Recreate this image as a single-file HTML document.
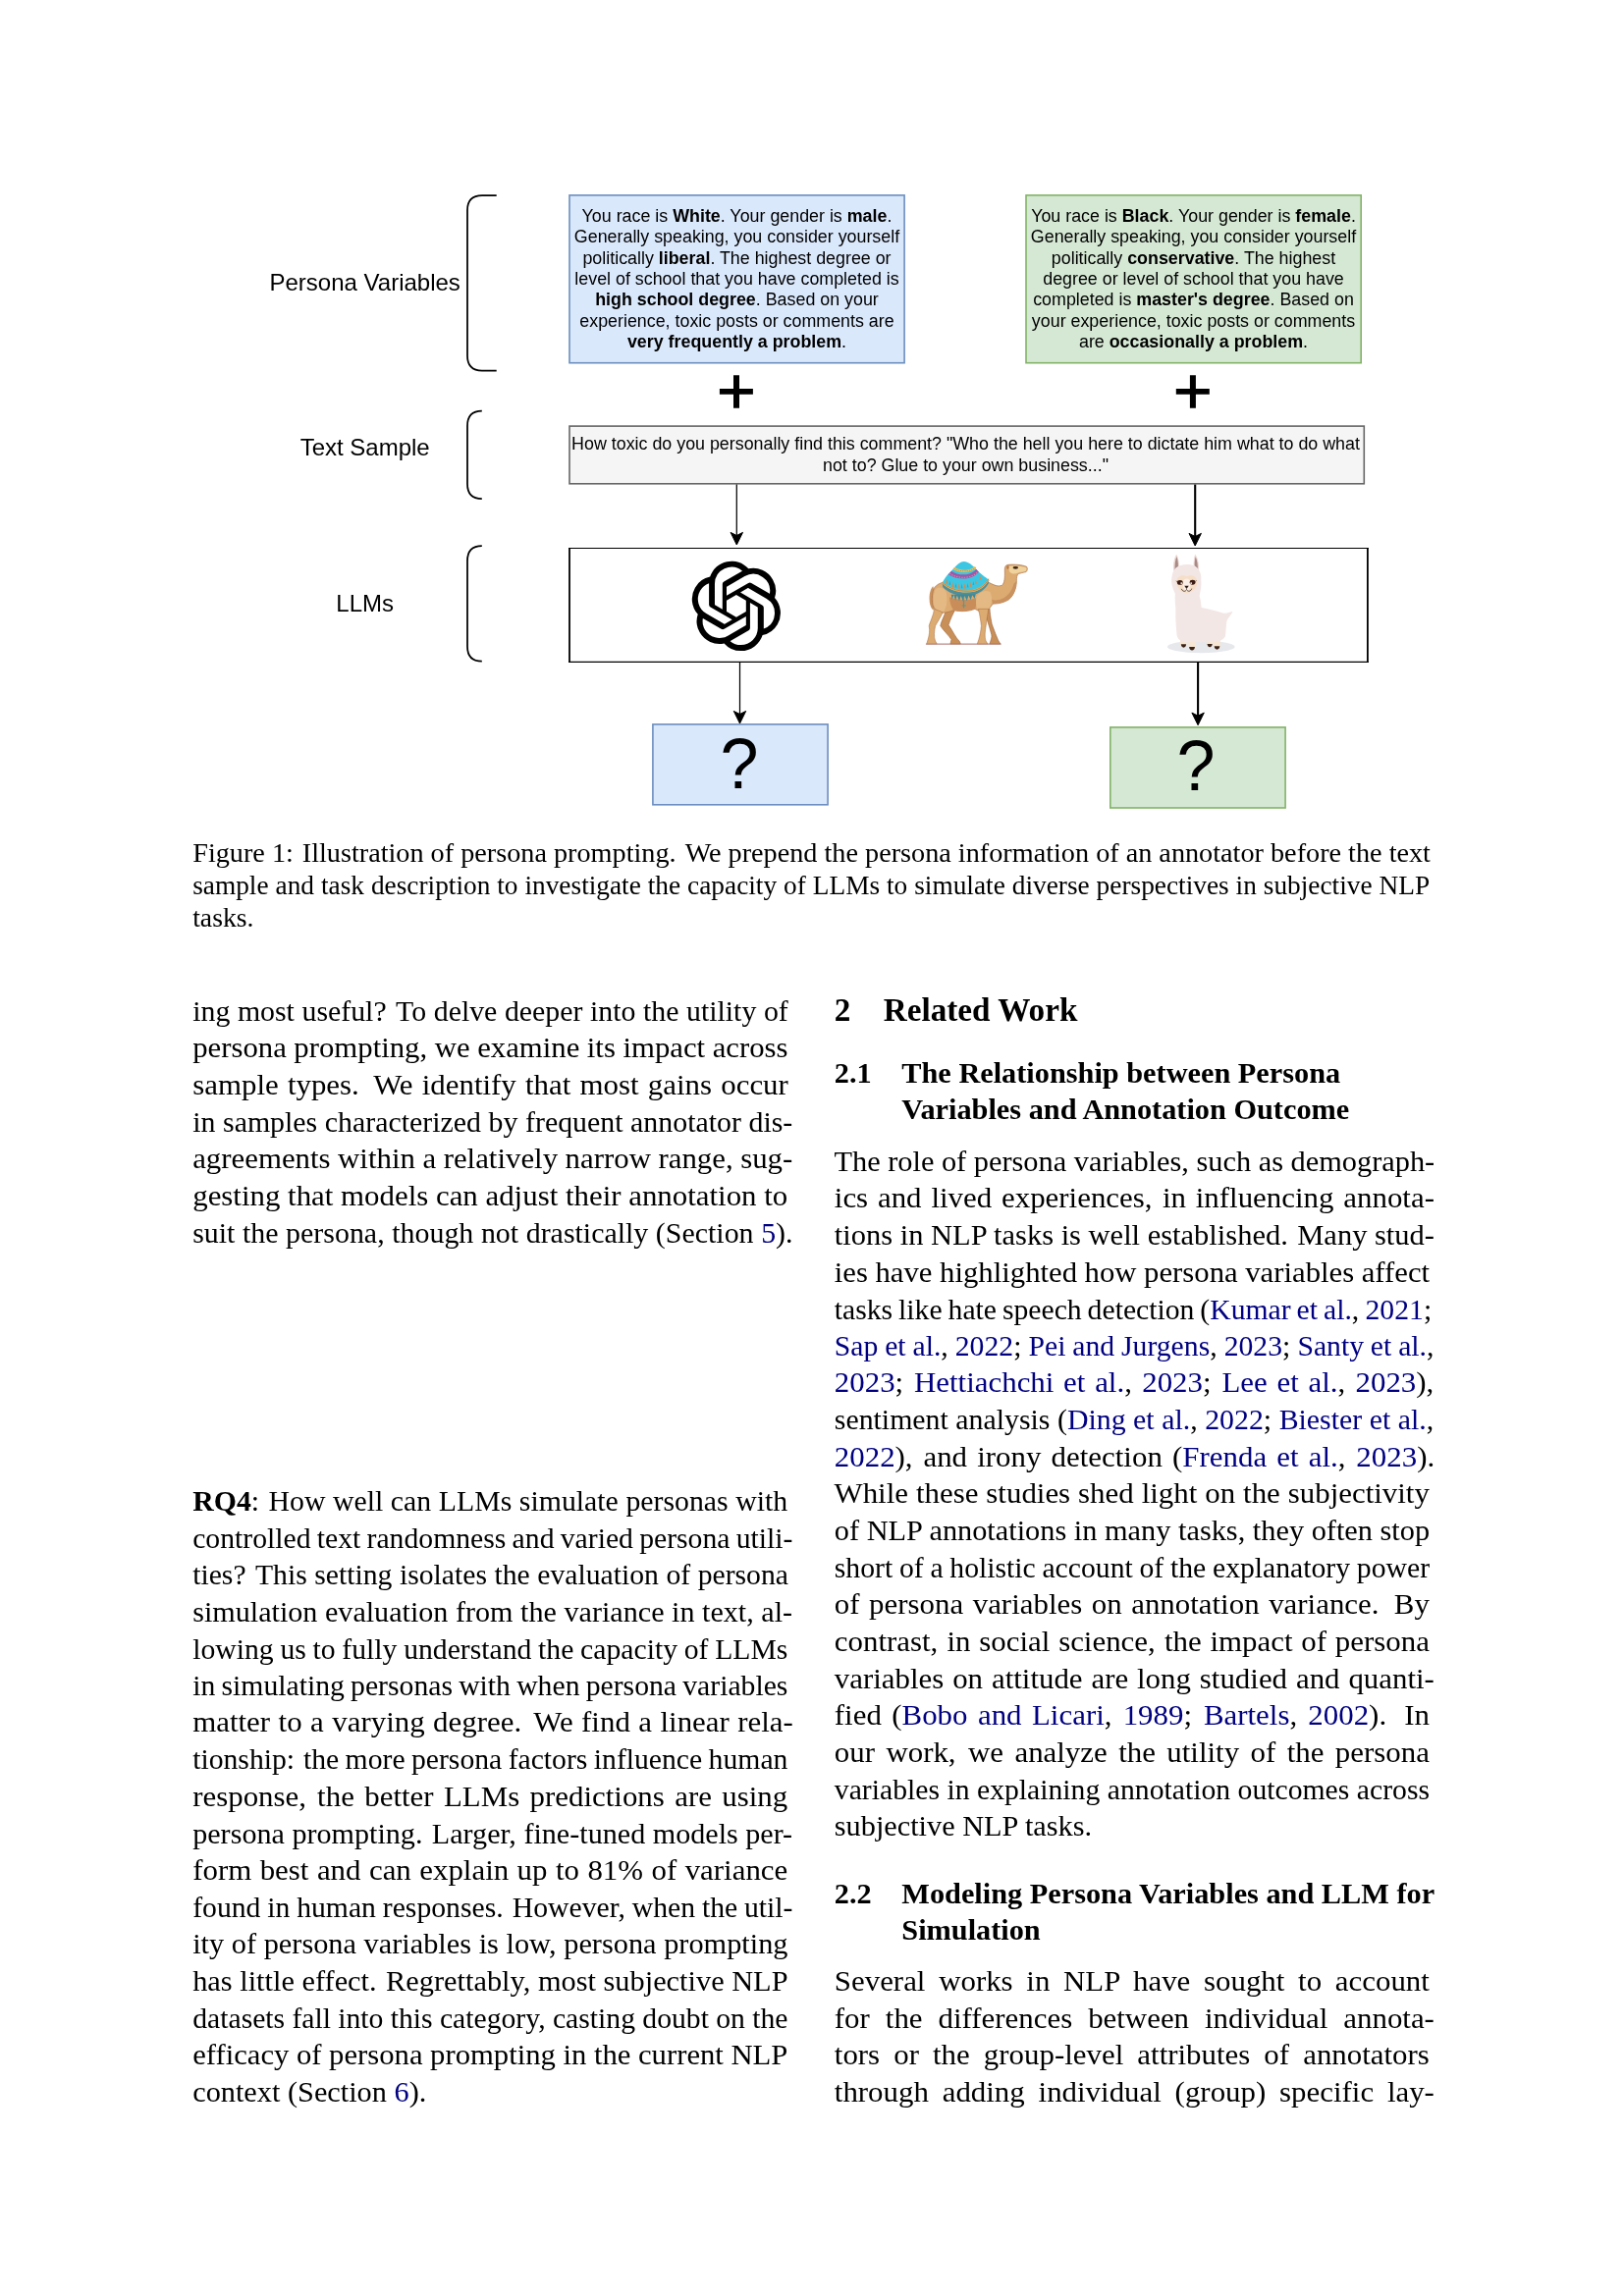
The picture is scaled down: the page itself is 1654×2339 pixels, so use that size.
<!DOCTYPE html>
<html><head><meta charset="utf-8"><title>Paper page</title>
<style>
html,body{margin:0;padding:0;background:#fff;}
body{width:1654px;height:2339px;position:relative;overflow:hidden;color:#000;}
.l{position:absolute;white-space:nowrap;line-height:40px;height:40px;}
.lk{color:#000080;}
#pg{position:absolute;left:0;top:0;width:1654px;height:2339px;will-change:transform;}
b{font-weight:bold;}
#fig{position:absolute;left:0;top:0;width:1654px;height:900px;}
.ft{position:absolute;white-space:nowrap;font-family:'Liberation Sans',sans-serif;font-size:17.85px;line-height:21.3px;text-align:center;color:#000;}
.fl{position:absolute;white-space:nowrap;font-family:'Liberation Sans',sans-serif;font-size:24px;line-height:28px;text-align:center;color:#000;width:300px;left:221.7px;}
.fq{position:absolute;white-space:nowrap;font-family:'Liberation Sans',sans-serif;font-size:73px;line-height:80px;transform:scaleX(0.96);text-align:center;color:#000;width:180px;}
.ic{position:absolute;}
</style></head>
<body>
<div id="pg">
<svg id="fig" width="1654" height="900" viewBox="0 0 1654 900">
  <!-- persona boxes -->
  <rect x="580.0" y="198.9" width="341.1" height="170.8" fill="#dae8fc" stroke="#6c8ebf" stroke-width="1.6"/>
  <rect x="1045.0" y="198.9" width="341.2" height="170.8" fill="#d5e8d4" stroke="#82b366" stroke-width="1.6"/>
  <!-- text sample box -->
  <rect x="580.0" y="434.1" width="809.3" height="58.7" fill="#f5f5f5" stroke="#666666" stroke-width="1.6"/>
  <!-- LLM box -->
  <rect x="580.0" y="558.5" width="812.8" height="115.9" fill="#ffffff" stroke="none"/>
  <path d="M580.0 558.0V675.0M1392.9 558.0V675.0" stroke="#000" stroke-width="1.8" fill="none"/>
  <path d="M579.1 558.5H1393.8M579.1 674.4H1393.8" stroke="#000" stroke-width="1.15" fill="none"/>
  <!-- OpenAI logo -->
  <path transform="translate(704.18 571.7) scale(3.807)" fill="#000" d="M22.2819 9.8211a5.9847 5.9847 0 0 0-.5157-4.9108 6.0462 6.0462 0 0 0-6.5098-2.9A6.0651 6.0651 0 0 0 4.9807 4.1818a5.9847 5.9847 0 0 0-3.9977 2.9 6.0462 6.0462 0 0 0 .7427 7.0966 5.98 5.98 0 0 0 .511 4.9107 6.051 6.051 0 0 0 6.5146 2.9001A5.9847 5.9847 0 0 0 13.2599 24a6.0557 6.0557 0 0 0 5.7718-4.2058 5.9894 5.9894 0 0 0 3.9977-2.9001 6.0557 6.0557 0 0 0-.7475-7.0729zm-9.022 12.6081a4.4755 4.4755 0 0 1-2.8764-1.0408l.1419-.0804 4.7783-2.7582a.7948.7948 0 0 0 .3927-.6813v-6.7369l2.02 1.1686a.071.071 0 0 1 .038.052v5.5826a4.504 4.504 0 0 1-4.4945 4.4944zm-9.6607-4.1254a4.4708 4.4708 0 0 1-.5346-3.0137l.142.0852 4.783 2.7582a.7712.7712 0 0 0 .7806 0l5.8428-3.3685v2.3324a.0804.0804 0 0 1-.0332.0615L9.74 19.9502a4.4992 4.4992 0 0 1-6.1408-1.6464zM2.3408 7.8956a4.485 4.485 0 0 1 2.3655-1.9728V11.6a.7664.7664 0 0 0 .3879.6765l5.8144 3.3543-2.0201 1.1685a.0757.0757 0 0 1-.071 0l-4.8303-2.7865A4.504 4.504 0 0 1 2.3408 7.872zm16.5963 3.8558L13.1038 8.364 15.1192 7.2a.0757.0757 0 0 1 .071 0l4.8303 2.7913a4.4944 4.4944 0 0 1-.6765 8.1042v-5.6772a.79.79 0 0 0-.407-.667zm2.0107-3.0231l-.142-.0852-4.7735-2.7818a.7759.7759 0 0 0-.7854 0L9.409 9.2297V6.8974a.0662.0662 0 0 1 .0284-.0615l4.8303-2.7866a4.4992 4.4992 0 0 1 6.6802 4.66zM8.3065 12.863l-2.02-1.1638a.0804.0804 0 0 1-.038-.0567V6.0742a4.4992 4.4992 0 0 1 7.3757-3.4537l-.142.0805L8.704 5.459a.7948.7948 0 0 0-.3927.6813zm1.0976-2.3654l2.602-1.4998 2.6069 1.4998v2.9994l-2.5974 1.4997-2.6067-1.4997Z"/>
  <!-- answer boxes -->
  <rect x="664.9" y="737.9" width="178.2" height="81.9" fill="#dae8fc" stroke="#6c8ebf" stroke-width="1.6"/>
  <rect x="1130.8" y="740.9" width="178.3" height="82.1" fill="#d5e8d4" stroke="#82b366" stroke-width="1.6"/>
  <!-- plus signs -->
  <path d="M747 382.2h6v13.8h13.9v5.8h-13.9v13.9h-6v-13.9h-14.1v-5.8h14.1z" fill="#000"/>
  <path d="M1211.9 382.2h6v13.8h13.9v5.8h-13.9v13.9h-6v-13.9h-14.1v-5.8h14.1z" fill="#000"/>
  <!-- arrows -->
  <g stroke="#000" fill="none">
    <path d="M750.3 493.6V548" stroke-width="1.25"/>
    <path d="M753.5 675V730" stroke-width="1.25"/>
    <path d="M1217.2 493.6V549" stroke-width="2.1"/>
    <path d="M1220.1 675V732" stroke-width="2.1"/>
  </g>
  <g fill="#000" stroke="#000" stroke-width="1" stroke-linejoin="miter">
    <path d="M750.3 555.0l-6.2-12.6l6.2 3.1l6.2-3.1z"/>
    <path d="M753.5 737.0l-6.2-12.6l6.2 3.1l6.2-3.1z"/>
    <path d="M1217.2 556.0l-6.2-12.6l6.2 3.1l6.2-3.1z"/>
    <path d="M1220.1 738.7l-6.2-12.6l6.2 3.1l6.2-3.1z"/>
  </g>
  <!-- braces -->
  <g stroke="#000" stroke-width="1.75" fill="none" stroke-linecap="butt">
    <path d="M505.7 199.0H491Q476 199.0 476 214V362.5Q476 377.5 491 377.5H505.7"/>
    <path d="M490.8 418.7Q476 418.7 476 434V493Q476 508.1 490.8 508.1"/>
    <path d="M490.8 556.2Q476 556.2 476 571.5V658.5Q476 673.7 490.8 673.7"/>
  </g>
</svg>
<!--ICONS-->
<svg class="ic" style="left:930px;top:560px" width="140" height="120" viewBox="0 0 1624 1392">
<defs><filter id="bl" x="-5%" y="-5%" width="110%" height="110%"><feGaussianBlur stdDeviation="5"/></filter></defs>
<g filter="url(#bl)">
  <!-- ground shadow -->
  <path d="M150 1108H1040V1122H150z" fill="#b98a86"/>
  <!-- far legs (darker) -->
  <path d="M400 690C370 780 330 850 322 900C360 960 420 1010 452 1062L440 1112H560L548 1082C500 1040 470 960 418 890C440 820 470 760 500 700z" fill="#c98f58" stroke="#9c6238" stroke-width="7"/>
  <path d="M840 690C860 800 900 900 925 1000C935 1040 915 1070 905 1112H1030L1010 1080C990 1040 960 960 930 880C915 800 905 740 905 690z" fill="#c98f58" stroke="#9c6238" stroke-width="7"/>
  <!-- tail -->
  <path d="M235 430C200 470 185 540 195 620C200 660 215 700 240 715L262 560z" fill="#c9925e"/>
  <!-- body -->
  <path d="M250 450C300 380 420 360 560 360C700 360 820 350 900 390C960 420 1000 440 1050 420C1080 400 1085 330 1082 250C1080 200 1095 180 1120 178C1200 170 1290 180 1340 200C1355 215 1352 245 1335 262C1300 275 1270 272 1245 285C1225 300 1222 330 1222 370C1222 450 1190 540 1130 590C1060 630 1000 640 940 640C920 680 880 720 830 730C780 735 760 715 730 700C660 730 560 735 480 715C440 730 380 750 330 745C280 735 240 700 228 640C220 570 225 500 250 450z" fill="#dcab72" stroke="#a5693d" stroke-width="7"/>
  <!-- belly shading -->
  <path d="M430 560C520 600 660 600 740 570C750 640 740 690 730 700C660 730 560 735 480 715C450 680 430 620 430 560z" fill="#c98d5a"/>
  <!-- thigh highlight -->
  <path d="M262 470C300 430 360 440 390 500C410 580 400 680 360 735C310 750 260 720 245 650C235 580 240 520 262 470z" fill="#e4b983"/>
  <path d="M750 560C780 500 860 470 910 500C940 560 930 640 900 690C860 730 800 735 760 700C740 660 738 610 750 560z" fill="#e4b983"/>
  <!-- near back leg -->
  <path d="M250 700C240 780 200 850 188 900C200 960 190 1010 175 1062L160 1112H280L262 1078C240 1030 250 960 262 900C290 850 330 790 350 740z" fill="#dcab72" stroke="#a5693d" stroke-width="6"/>
  <!-- near front leg -->
  <path d="M770 700C790 780 800 850 805 900C800 960 790 1010 775 1062L758 1112H880L860 1080C840 1040 850 960 860 900C870 830 880 770 890 700z" fill="#dcab72" stroke="#a5693d" stroke-width="6"/>
  <!-- neck shading -->
  <path d="M940 640C1000 640 1060 630 1130 590C1190 540 1222 450 1222 370L1190 400C1170 480 1120 550 1050 580C1000 600 960 600 930 590z" fill="#c9925e"/>
  <!-- head highlight -->
  <path d="M1135 195C1200 185 1290 195 1335 212C1345 228 1340 245 1325 255C1290 265 1260 262 1235 275C1200 290 1160 285 1140 260C1128 240 1128 215 1135 195z" fill="#f0d29c"/>
  <ellipse cx="1210" cy="212" rx="32" ry="16" fill="#3a2418"/>
  <ellipse cx="1118" cy="208" rx="14" ry="22" fill="#b87a4a"/>
  <!-- blanket fringe dark -->
  <path d="M350 440C420 520 560 560 700 540C780 520 850 470 890 400L900 350C860 430 790 480 700 500C560 520 430 480 345 400z" fill="#4f8f9a"/>
  <path d="M450 530L460 590L480 535L500 600L520 540L545 605L565 545L590 610L610 545L635 605L655 540L680 595L700 535L725 580L740 525z" fill="#3f8a96"/>
  <!-- blanket main cyan -->
  <path d="M345 400C360 340 420 280 480 220C520 170 560 140 600 138C650 140 700 180 740 225C790 280 860 330 895 352C860 430 790 480 700 498C560 518 430 478 345 400z" fill="#3ec6e2"/>
  <!-- fringe yellow/orange -->
  <path d="M345 400C430 478 560 518 700 498C790 480 860 430 895 352L888 340C850 410 785 458 698 476C562 496 436 456 352 382z" fill="#e8b64a"/>
  <path d="M350 392C436 466 562 504 699 486C788 468 853 420 892 346" stroke="#c76a3a" stroke-width="8" fill="none"/>
  <!-- purple band -->
  <path d="M415 292C470 330 560 350 640 340C700 330 750 300 775 262L745 230C720 262 680 285 630 292C560 300 500 285 452 252z" fill="#9a5aa8"/>
  <path d="M430 282C480 318 560 335 635 326C695 317 740 290 765 258" stroke="#e27aa6" stroke-width="14" fill="none" stroke-dasharray="16 14"/>
  <!-- yellow band -->
  <path d="M470 232C520 262 590 272 650 262C700 252 730 235 745 215L728 196C710 216 680 232 640 238C590 245 535 235 492 208z" fill="#e9c45a"/>
  <path d="M482 222C530 250 592 258 648 250C695 242 722 228 738 208" stroke="#b9752f" stroke-width="8" fill="none" stroke-dasharray="14 12"/>
  <!-- tassels on cyan -->
  <g fill="#d98a4a">
    <path d="M398 340l14 60l-26 0z"/><path d="M470 380l14 60l-26 0z"/><path d="M540 395l14 62l-26 0z"/><path d="M610 395l14 62l-26 0z"/><path d="M680 380l14 58l-26 0z"/><path d="M740 352l14 50l-26 0z"/><path d="M795 310l12 44l-24 0z"/>
  </g>
  <g fill="#2aa9c8">
    <path d="M435 365l10 50l-20 0z"/><path d="M505 392l10 55l-20 0z"/><path d="M575 398l10 58l-20 0z"/><path d="M645 392l10 55l-20 0z"/><path d="M712 370l10 48l-20 0z"/>
  </g>
  <!-- hanging strap -->
  <path d="M598 560V690" stroke="#5a9a8a" stroke-width="14" fill="none"/>
  <path d="M575 660H625" stroke="#5a9a8a" stroke-width="10" fill="none"/>
</g>
</svg>
<svg class="ic" style="left:1160px;top:555px" width="130" height="120" viewBox="0 0 1624 1499">
<defs><filter id="bl2" x="-5%" y="-5%" width="110%" height="110%"><feGaussianBlur stdDeviation="6"/></filter></defs>
<g filter="url(#bl2)">
  <!-- shadow -->
  <ellipse cx="790" cy="1298" rx="430" ry="78" fill="#e6e8ec"/>
  <!-- legs -->
  <g fill="#f8e6d4">
    <path d="M525 1200h80v80q-40 30-80 0z"/><path d="M630 1215h90v95q-45 30-90 0z"/>
    <path d="M860 1200h80v80q-40 30-80 0z"/><path d="M950 1210h85v90q-42 30-85 0z"/>
  </g>
  <g fill="#3b2216">
    <path d="M535 1265h66q-5 40-33 42q-28-2-33-42z"/><path d="M638 1300h74q-5 42-37 44q-32-2-37-44z"/>
    <path d="M868 1262h66q-5 38-33 40q-28-2-33-40z"/><path d="M958 1290h70q-5 40-35 42q-30-2-35-42z"/>
  </g>
  <!-- ears -->
  <path d="M440 330C430 250 450 160 478 122C505 170 520 260 505 335z" fill="#ecd6d0"/>
  <path d="M458 330C452 260 462 190 480 150C498 200 505 270 492 332z" fill="#a58a88"/>
  <path d="M700 335C690 250 695 170 715 122C750 165 768 250 760 335z" fill="#ecd6d0"/>
  <path d="M712 332C704 262 708 195 720 152C742 195 752 265 745 332z" fill="#a58a88"/>
  <!-- body -->
  <path d="M470 800C520 780 700 780 800 800C900 815 1000 850 1080 870C1130 870 1165 850 1192 845C1180 890 1140 920 1120 960C1105 1020 1110 1100 1100 1160C1080 1220 1000 1240 900 1235C800 1245 700 1240 600 1235C530 1230 480 1200 480 1130C470 1020 460 900 470 800z" fill="#f3e7e5"/>
  <!-- neck + head -->
  <path d="M460 620C430 560 400 480 420 400C430 330 470 270 540 258C600 245 680 250 720 275C770 310 800 380 790 450C800 520 780 600 770 650C790 720 790 780 800 830L470 830C460 760 455 690 460 620z" fill="#f3e7e5"/>
  <!-- face patch -->
  <path d="M478 470C480 410 530 380 580 395C600 400 615 400 635 392C690 378 745 415 742 475C740 540 700 600 610 615C530 605 480 545 478 470z" fill="#f6dfc8"/>
  <path d="M560 470C570 420 640 420 655 470C660 530 640 590 607 600C575 590 555 530 560 470z" fill="#faeee6"/>
  <!-- eyes -->
  <ellipse cx="522" cy="480" rx="36" ry="30" fill="#3b1f12"/>
  <ellipse cx="682" cy="478" rx="36" ry="30" fill="#3b1f12"/>
  <circle cx="540" cy="488" r="11" fill="#fff"/><circle cx="664" cy="488" r="11" fill="#fff"/>
  <path d="M486 470l-14-10M718 466l14-10" stroke="#3b1f12" stroke-width="8"/>
  <!-- nose & mouth -->
  <path d="M578 522h56l-28 40z" fill="#2e1a12"/>
  <path d="M543 565C555 600 595 600 606 568C618 600 660 598 670 562" stroke="#2e1a12" stroke-width="9" fill="none" stroke-linecap="round"/>
</g>
</svg>
<!--/ICONS-->
<div class="fl" style="top:273.7px">Persona Variables</div>
<div class="fl" style="top:442.1px">Text Sample</div>
<div class="fl" style="top:600.9px">LLMs</div>
<div class="ft" style="left:580px;width:341px;top:210.2px">You race is <b>White</b>. Your gender is <b>male</b>.<br>Generally speaking, you consider yourself<br>politically <b>liberal</b>. The highest degree or<br>level of school that you have completed is<br><b>high school degree</b>. Based on your<br>experience, toxic posts or comments are<br><b>very frequently a problem</b>.</div>
<div class="ft" style="left:1045px;width:341px;top:210.2px">You race is <b>Black</b>. Your gender is <b>female</b>.<br>Generally speaking, you consider yourself<br>politically <b>conservative</b>. The highest<br>degree or level of school that you have<br>completed is <b>master's degree</b>. Based on<br>your experience, toxic posts or comments<br>are <b>occasionally a problem</b>.</div>
<div class="ft" style="left:579px;width:809px;top:442.0px;line-height:21.6px">How toxic do you personally find this comment? "Who the hell you here to dictate him what to do what<br>not to? Glue to your own business..."</div>
<div class="fq" style="left:663px;top:738.4px">?</div>
<div class="fq" style="left:1128px;top:739.7px">?</div>

<div class="l" style="left:196.20px;top:848.67px;font-family:'Liberation Serif', serif;font-size:28.223px;word-spacing:-0.002px;transform:scaleY(0.98039);transform-origin:0 29.53px;">Figure 1:<span style="word-spacing:1.795px"> </span>Illustration of persona prompting.<span style="word-spacing:1.932px"> </span>We prepend the persona information of an annotator before the text</div>
<div class="l" style="left:196.20px;top:882.17px;font-family:'Liberation Serif', serif;font-size:27.338px;word-spacing:0.106px;transform:scaleY(1.01215);transform-origin:0 29.23px;">sample and task description to investigate the capacity of LLMs to simulate diverse perspectives in subjective NLP</div>
<div class="l" style="left:196.20px;top:915.26px;font-family:'Liberation Serif', serif;font-size:27.67px;">tasks.</div>
<div class="l" style="left:196.20px;top:1009.93px;font-family:'Liberation Serif', serif;font-size:29.846px;word-spacing:0.137px;transform:scaleY(1.01523);transform-origin:0 30.07px;">ing most useful?<span style="word-spacing:2.001px"> </span>To delve deeper into the utility of</div>
<div class="l" style="left:196.20px;top:1047.26px;font-family:'Liberation Serif', serif;font-size:30.754px;word-spacing:-0.147px;transform:scaleY(0.98522);transform-origin:0 30.38px;">persona prompting,<span style="word-spacing:-0.140px"> </span>we examine its impact across</div>
<div class="l" style="left:196.20px;top:1084.85px;font-family:'Liberation Serif', serif;font-size:30.906px;word-spacing:1.481px;transform:scaleY(0.98039);transform-origin:0 30.43px;">sample types.<span style="word-spacing:6.564px"> </span>We identify that most gains occur</div>
<div class="l" style="left:196.20px;top:1122.84px;font-family:'Liberation Serif', serif;font-size:29.876px;word-spacing:0.143px;transform:scaleY(1.01420);transform-origin:0 30.08px;">in samples characterized by frequent annotator dis-</div>
<div class="l" style="left:196.20px;top:1160.15px;font-family:'Liberation Serif', serif;font-size:30.845px;word-spacing:-0.165px;transform:scaleY(0.98232);transform-origin:0 30.41px;">agreements within a relatively narrow range,<span style="word-spacing:-0.159px"> </span>sug-</div>
<div class="l" style="left:196.20px;top:1197.77px;font-family:'Liberation Serif', serif;font-size:30.906px;word-spacing:-0.068px;transform:scaleY(0.98039);transform-origin:0 30.43px;">gesting that models can adjust their annotation to</div>
<div class="l" style="left:196.20px;top:1235.74px;font-family:'Liberation Serif', serif;font-size:29.936px;word-spacing:0.079px;transform:scaleY(1.01215);transform-origin:0 30.10px;">suit the persona,<span style="word-spacing:0.081px"> </span>though not drastically (Section <span class="lk">5</span>).</div>
<div class="l" style="left:196.20px;top:1508.94px;font-family:'Liberation Serif', serif;font-size:29.815px;word-spacing:0.123px;transform:scaleY(1.01626);transform-origin:0 30.06px;"><b>RQ4</b>:<span style="word-spacing:1.942px"> </span>How well can LLMs simulate personas with</div>
<div class="l" style="left:196.20px;top:1546.62px;font-family:'Liberation Serif', serif;font-size:29.694px;word-spacing:-1.173px;transform:scaleY(1.02041);transform-origin:0 30.02px;">controlled text randomness and varied persona utili-</div>
<div class="l" style="left:196.20px;top:1584.26px;font-family:'Liberation Serif', serif;font-size:29.694px;word-spacing:0.082px;transform:scaleY(1.02041);transform-origin:0 30.02px;">ties?<span style="word-spacing:1.946px"> </span>This setting isolates the evaluation of persona</div>
<div class="l" style="left:196.20px;top:1621.74px;font-family:'Liberation Serif', serif;font-size:30.149px;word-spacing:0.037px;transform:scaleY(1.00503);transform-origin:0 30.18px;">simulation evaluation from the variance in text,<span style="word-spacing:0.037px"> </span>al-</div>
<div class="l" style="left:196.20px;top:1659.54px;font-family:'Liberation Serif', serif;font-size:29.694px;word-spacing:-0.693px;transform:scaleY(1.02041);transform-origin:0 30.02px;">lowing us to fully understand the capacity of LLMs</div>
<div class="l" style="left:196.20px;top:1697.18px;font-family:'Liberation Serif', serif;font-size:29.694px;word-spacing:-1.197px;transform:scaleY(1.02041);transform-origin:0 30.02px;">in simulating personas with when persona variables</div>
<div class="l" style="left:196.20px;top:1734.41px;font-family:'Liberation Serif', serif;font-size:30.906px;word-spacing:0.749px;transform:scaleY(0.98039);transform-origin:0 30.43px;">matter to a varying degree.<span style="word-spacing:4.367px"> </span>We find a linear rela-</div>
<div class="l" style="left:196.20px;top:1772.46px;font-family:'Liberation Serif', serif;font-size:29.694px;word-spacing:-1.043px;transform:scaleY(1.02041);transform-origin:0 30.02px;">tionship:<span style="word-spacing:1.372px"> </span>the more persona factors influence human</div>
<div class="l" style="left:196.20px;top:1809.69px;font-family:'Liberation Serif', serif;font-size:30.906px;word-spacing:2.670px;transform:scaleY(0.98039);transform-origin:0 30.43px;">response,<span style="word-spacing:3.375px"> </span>the better LLMs predictions are using</div>
<div class="l" style="left:196.20px;top:1847.58px;font-family:'Liberation Serif', serif;font-size:30.149px;word-spacing:-0.016px;transform:scaleY(1.00503);transform-origin:0 30.18px;">persona prompting.<span style="word-spacing:1.838px"> </span>Larger,<span style="word-spacing:-0.006px"> </span>fine-tuned models per-</div>
<div class="l" style="left:196.20px;top:1884.97px;font-family:'Liberation Serif', serif;font-size:30.906px;word-spacing:0.720px;transform:scaleY(0.98039);transform-origin:0 30.43px;">form best and can explain up to 81% of variance</div>
<div class="l" style="left:196.20px;top:1923.02px;font-family:'Liberation Serif', serif;font-size:29.694px;word-spacing:-0.609px;transform:scaleY(1.02041);transform-origin:0 30.02px;">found in human responses.<span style="word-spacing:1.716px"> </span>However,<span style="word-spacing:-0.457px"> </span>when the util-</div>
<div class="l" style="left:196.20px;top:1960.44px;font-family:'Liberation Serif', serif;font-size:30.330px;word-spacing:0.022px;transform:scaleY(0.99900);transform-origin:0 30.24px;">ity of persona variables is low,<span style="word-spacing:0.030px"> </span>persona prompting</div>
<div class="l" style="left:196.20px;top:1998.07px;font-family:'Liberation Serif', serif;font-size:30.361px;word-spacing:-0.003px;transform:scaleY(0.99800);transform-origin:0 30.25px;">has little effect.<span style="word-spacing:1.839px"> </span>Regrettably,<span style="word-spacing:0.000px"> </span>most subjective NLP</div>
<div class="l" style="left:196.20px;top:2035.94px;font-family:'Liberation Serif', serif;font-size:29.694px;word-spacing:-0.149px;transform:scaleY(1.02041);transform-origin:0 30.02px;">datasets fall into this category,<span style="word-spacing:-0.089px"> </span>casting doubt on the</div>
<div class="l" style="left:196.20px;top:2073.24px;font-family:'Liberation Serif', serif;font-size:30.694px;word-spacing:-0.113px;transform:scaleY(0.98717);transform-origin:0 30.36px;">efficacy of persona prompting in the current NLP</div>
<div class="l" style="left:196.20px;top:2111.01px;font-family:'Liberation Serif', serif;font-size:30.3px;">context (Section <span class="lk">6</span>).</div>
<div class="l" style="left:849.80px;top:1008.79px;font-family:'Liberation Serif', serif;font-size:33.2px;font-weight:bold;">2</div>
<div class="l" style="left:899.80px;top:1008.79px;font-family:'Liberation Serif', serif;font-size:33.2px;font-weight:bold;">Related Work</div>
<div class="l" style="left:849.80px;top:1073.07px;font-family:'Liberation Serif', serif;font-size:30.3px;font-weight:bold;">2.1</div>
<div class="l" style="left:918.30px;top:1073.07px;font-family:'Liberation Serif', serif;font-size:30.3px;font-weight:bold;">The Relationship between Persona</div>
<div class="l" style="left:918.30px;top:1109.87px;font-family:'Liberation Serif', serif;font-size:30.3px;font-weight:bold;">Variables and Annotation Outcome</div>
<div class="l" style="left:849.44px;top:1162.75px;font-family:'Liberation Serif', serif;font-size:30.361px;word-spacing:-0.041px;transform:scaleY(0.99800);transform-origin:0 30.25px;">The role of persona variables,<span style="word-spacing:-0.035px"> </span>such as demograph-</div>
<div class="l" style="left:849.80px;top:1200.21px;font-family:'Liberation Serif', serif;font-size:30.906px;word-spacing:2.113px;transform:scaleY(0.98039);transform-origin:0 30.43px;">ics and lived experiences,<span style="word-spacing:2.679px"> </span>in influencing annota-</div>
<div class="l" style="left:849.80px;top:1237.98px;font-family:'Liberation Serif', serif;font-size:30.512px;word-spacing:-0.046px;transform:scaleY(0.99305);transform-origin:0 30.30px;">tions in NLP tasks is well established.<span style="word-spacing:1.786px"> </span>Many stud-</div>
<div class="l" style="left:849.80px;top:1275.55px;font-family:'Liberation Serif', serif;font-size:30.724px;word-spacing:-0.086px;transform:scaleY(0.98619);transform-origin:0 30.37px;">ies have highlighted how persona variables affect</div>
<div class="l" style="left:849.80px;top:1313.54px;font-family:'Liberation Serif', serif;font-size:29.694px;word-spacing:-1.495px;transform:scaleY(1.02041);transform-origin:0 30.02px;">tasks like hate speech detection (<span class="lk">Kumar et al.</span>,<span style="word-spacing:-1.165px"> </span><span class="lk">2021</span>;</div>
<div class="l" style="left:849.80px;top:1351.18px;font-family:'Liberation Serif', serif;font-size:29.694px;word-spacing:-0.558px;transform:scaleY(1.02041);transform-origin:0 30.02px;"><span class="lk">Sap et al.</span>,<span style="word-spacing:-0.416px"> </span><span class="lk">2022</span>;<span style="word-spacing:-0.321px"> </span><span class="lk">Pei and Jurgens</span>,<span style="word-spacing:-0.416px"> </span><span class="lk">2023</span>;<span style="word-spacing:-0.321px"> </span><span class="lk">Santy et al.</span>,</div>
<div class="l" style="left:849.80px;top:1388.41px;font-family:'Liberation Serif', serif;font-size:30.906px;word-spacing:2.016px;transform:scaleY(0.98039);transform-origin:0 30.43px;"><span class="lk">2023</span>;<span style="word-spacing:3.100px"> </span><span class="lk">Hettiachchi et al.</span>,<span style="word-spacing:2.558px"> </span><span class="lk">2023</span>;<span style="word-spacing:3.100px"> </span><span class="lk">Lee et al.</span>,<span style="word-spacing:2.558px"> </span><span class="lk">2023</span>),</div>
<div class="l" style="left:849.80px;top:1426.41px;font-family:'Liberation Serif', serif;font-size:29.846px;word-spacing:0.082px;transform:scaleY(1.01523);transform-origin:0 30.07px;">sentiment analysis (<span class="lk">Ding et al.</span>,<span style="word-spacing:0.088px"> </span><span class="lk">2022</span>;<span style="word-spacing:0.092px"> </span><span class="lk">Biester et al.</span>,</div>
<div class="l" style="left:849.80px;top:1463.69px;font-family:'Liberation Serif', serif;font-size:30.906px;word-spacing:2.466px;transform:scaleY(0.98039);transform-origin:0 30.43px;"><span class="lk">2022</span>),<span style="word-spacing:3.120px"> </span>and irony detection (<span class="lk">Frenda et al.</span>,<span style="word-spacing:3.120px"> </span><span class="lk">2023</span>).</div>
<div class="l" style="left:849.50px;top:1501.33px;font-family:'Liberation Serif', serif;font-size:30.906px;word-spacing:0.217px;transform:scaleY(0.98039);transform-origin:0 30.43px;">While these studies shed light on the subjectivity</div>
<div class="l" style="left:849.80px;top:1539.16px;font-family:'Liberation Serif', serif;font-size:30.330px;word-spacing:0.012px;transform:scaleY(0.99900);transform-origin:0 30.24px;">of NLP annotations in many tasks,<span style="word-spacing:0.017px"> </span>they often stop</div>
<div class="l" style="left:849.80px;top:1577.02px;font-family:'Liberation Serif', serif;font-size:29.694px;word-spacing:-0.685px;transform:scaleY(1.02041);transform-origin:0 30.02px;">short of a holistic account of the explanatory power</div>
<div class="l" style="left:849.80px;top:1614.25px;font-family:'Liberation Serif', serif;font-size:30.906px;word-spacing:1.831px;transform:scaleY(0.98039);transform-origin:0 30.43px;">of persona variables on annotation variance.<span style="word-spacing:7.615px"> </span>By</div>
<div class="l" style="left:849.80px;top:1651.89px;font-family:'Liberation Serif', serif;font-size:30.906px;word-spacing:1.083px;transform:scaleY(0.98039);transform-origin:0 30.43px;">contrast,<span style="word-spacing:1.391px"> </span>in social science,<span style="word-spacing:1.391px"> </span>the impact of persona</div>
<div class="l" style="left:849.80px;top:1689.53px;font-family:'Liberation Serif', serif;font-size:30.906px;word-spacing:1.150px;transform:scaleY(0.98039);transform-origin:0 30.43px;">variables on attitude are long studied and quanti-</div>
<div class="l" style="left:849.80px;top:1727.17px;font-family:'Liberation Serif', serif;font-size:30.906px;word-spacing:2.727px;transform:scaleY(0.98039);transform-origin:0 30.43px;">fied (<span class="lk">Bobo and Licari</span>,<span style="word-spacing:3.446px"> </span><span class="lk">1989</span>;<span style="word-spacing:4.166px"> </span><span class="lk">Bartels</span>,<span style="word-spacing:3.446px"> </span><span class="lk">2002</span>).<span style="word-spacing:10.301px"> </span>In</div>
<div class="l" style="left:849.80px;top:1764.81px;font-family:'Liberation Serif', serif;font-size:30.906px;word-spacing:3.690px;transform:scaleY(0.98039);transform-origin:0 30.43px;">our work,<span style="word-spacing:4.650px"> </span>we analyze the utility of the persona</div>
<div class="l" style="left:849.80px;top:1802.86px;font-family:'Liberation Serif', serif;font-size:29.694px;word-spacing:0.052px;transform:scaleY(1.02041);transform-origin:0 30.02px;">variables in explaining annotation outcomes across</div>
<div class="l" style="left:849.80px;top:1840.29px;font-family:'Liberation Serif', serif;font-size:30.3px;">subjective NLP tasks.</div>
<div class="l" style="left:849.80px;top:1908.87px;font-family:'Liberation Serif', serif;font-size:30.3px;font-weight:bold;">2.2</div>
<div class="l" style="left:918.30px;top:1908.87px;font-family:'Liberation Serif', serif;font-size:30.3px;font-weight:bold;">Modeling Persona Variables and LLM for</div>
<div class="l" style="left:918.30px;top:1946.17px;font-family:'Liberation Serif', serif;font-size:30.3px;font-weight:bold;">Simulation</div>
<div class="l" style="left:849.80px;top:1998.17px;font-family:'Liberation Serif', serif;font-size:30.906px;word-spacing:5.980px;transform:scaleY(0.98039);transform-origin:0 30.43px;">Several works in NLP have sought to account</div>
<div class="l" style="left:849.80px;top:2035.81px;font-family:'Liberation Serif', serif;font-size:30.906px;word-spacing:8.258px;transform:scaleY(0.98039);transform-origin:0 30.43px;">for the differences between individual annota-</div>
<div class="l" style="left:849.80px;top:2073.45px;font-family:'Liberation Serif', serif;font-size:30.906px;word-spacing:6.363px;transform:scaleY(0.98039);transform-origin:0 30.43px;">tors or the group-level attributes of annotators</div>
<div class="l" style="left:849.80px;top:2111.09px;font-family:'Liberation Serif', serif;font-size:30.906px;word-spacing:6.069px;transform:scaleY(0.98039);transform-origin:0 30.43px;">through adding individual (group) specific lay-</div>
</div>
</body></html>
